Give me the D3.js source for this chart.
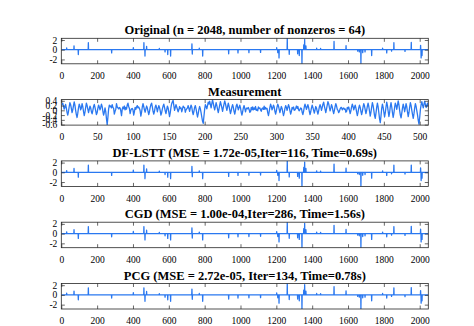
<!DOCTYPE html>
<html><head><meta charset="utf-8">
<script src="https://cdn.jsdelivr.net/npm/d3@7"></script>
<style>
body{margin:0;background:#fff}
svg{display:block}
text{font-family:"Liberation Serif","Times New Roman",serif;fill:#000}
</style>
</head><body>
<svg id="chart" width="474" height="326"></svg>
<script>
// ---------- data ----------
const signalLength = 2048;
const measurementLength = 512;

// positions (1-based sample index) and amplitudes of the visible nonzeros
const nonzeroIndex = [30,71,95,151,281,402,461,467,476,547,579,594,610,729,731,770,789,934,986,1047,1112,1202,1208,1215,1261,1272,1319,1328,1343,1353,1358,1365,1425,1447,1522,1589,1654,1663,1672,1682,1695,1732,1793,1816,1843,1856,1918,1953,2005,2008,2013];
const originalValues = [0.35,0.8,-1.0,1.45,-0.65,0.45,1.45,-1.3,0.7,0.25,-0.45,-1.0,-1.3,1.2,-0.9,0.3,-1.3,-0.85,-0.65,-0.6,-0.55,0.4,-0.6,-1.7,2.35,-0.95,-0.85,-1.2,-2.9,1.0,2.1,0.8,0.3,0.25,1.7,0.85,-0.3,-0.45,-2.85,-0.6,-0.45,-1.2,0.3,-0.65,-0.3,1.45,-0.35,1.5,0.9,-1.7,-1.2];
// reconstructions look identical to the original at this scale
const dflsttValues = originalValues;
const cgdValues = originalValues;
const pcgValues = originalValues;

const measurementValues = [
0.22,0.30,0.18,0.05,0.12,0.25,0.10,-0.08,-0.20,-0.05,0.15,0.32,0.24,0.08,-0.10,0.02,
0.20,0.35,0.22,0.00,-0.18,-0.30,-0.12,0.10,0.26,0.18,0.02,0.10,0.28,0.15,-0.05,-0.22,
-0.08,0.12,0.30,0.20,0.05,-0.10,0.04,0.18,0.10,-0.06,-0.15,0.00,0.16,0.25,0.12,-0.02,
-0.18,-0.10,0.08,0.22,0.14,0.02,0.12,0.26,0.16,-0.04,-0.20,-0.08,0.10,-0.05,-0.35,-0.60,
-0.30,0.05,0.22,0.15,0.18,0.10,0.24,0.12,0.08,-0.16,-0.04,0.04,0.28,0.14,0.10,0.06,
0.12,0.10,-0.02,-0.22,0.05,0.14,0.06,0.18,0.02,0.12,0.05,0.22,0.30,0.16,0.08,-0.14,
0.00,0.06,0.08,0.02,-0.20,-0.06,0.12,0.04,0.14,0.20,0.10,0.14,0.08,-0.02,-0.24,-0.08,
0.14,0.28,0.16,0.02,-0.08,0.06,0.18,0.10,-0.04,-0.18,-0.06,0.12,0.24,0.30,0.14,-0.04,
-0.16,-0.04,0.14,0.22,0.10,-0.06,0.08,0.20,0.12,-0.02,-0.20,-0.10,0.06,0.18,0.26,0.12,
-0.02,-0.14,0.02,0.18,0.10,-0.08,-0.26,-0.10,0.12,0.28,0.36,0.42,0.20,0.00,0.12,0.24,
0.14,0.04,-0.06,0.02,0.16,0.08,0.10,-0.06,0.04,0.18,0.12,0.12,-0.08,0.02,0.06,0.10,
0.20,0.08,-0.04,0.10,0.22,0.14,-0.06,-0.18,-0.04,0.12,0.20,0.06,-0.12,-0.28,-0.14,0.04,
0.16,0.06,-0.10,-0.28,-0.45,-0.55,-0.25,0.05,0.24,0.16,0.06,0.20,0.34,0.26,0.38,0.24,
0.10,0.28,0.44,0.30,0.14,0.02,0.18,0.32,0.20,0.04,-0.10,0.06,0.22,0.36,0.24,0.10,
-0.04,0.12,0.26,0.40,0.28,0.12,0.00,0.16,0.30,0.18,0.02,-0.14,-0.02,0.14,0.24,0.12,
-0.04,-0.16,0.00,0.18,0.26,0.14,0.02,0.12,0.22,0.10,-0.08,-0.20,-0.06,0.10,0.20,0.08,
-0.06,0.06,0.10,0.06,0.12,0.04,-0.08,-0.06,0.12,0.02,0.14,0.02,0.10,0.04,0.16,0.00,
0.04,-0.02,0.14,0.08,0.10,0.02,-0.04,0.08,0.10,0.04,0.18,0.04,0.12,0.06,0.08,-0.10,
-0.22,-0.06,0.12,0.26,0.16,0.02,0.10,0.22,0.14,-0.04,-0.16,-0.02,0.14,0.26,0.18,0.04,
-0.10,0.04,0.16,0.08,-0.08,-0.22,-0.10,0.08,0.20,0.12,0.00,0.12,0.24,0.14,-0.02,-0.16,
-0.04,0.12,0.06,0.14,0.00,0.02,0.08,0.18,0.08,0.16,0.02,-0.02,0.04,0.10,0.08,-0.08,
-0.18,-0.04,0.14,0.26,0.16,0.04,0.14,0.24,0.12,-0.04,-0.18,-0.06,0.10,0.22,0.12,0.00,
-0.12,0.02,0.16,0.10,-0.04,-0.16,-0.02,0.14,0.24,0.14,0.00,0.12,0.26,0.34,0.18,0.04,
-0.10,0.06,0.22,0.36,0.28,0.12,-0.02,0.10,0.24,0.14,-0.02,-0.14,0.00,0.16,0.28,0.18,
0.04,0.00,-0.10,-0.04,0.06,0.12,0.12,0.02,0.08,0.10,0.04,0.06,-0.08,-0.04,0.12,0.06,
0.14,0.00,-0.14,-0.02,0.14,0.26,0.16,0.02,0.12,0.22,0.10,-0.08,-0.22,-0.08,0.10,0.22,
0.12,-0.04,-0.18,-0.04,0.14,0.28,0.18,0.02,-0.14,0.00,0.18,0.30,0.16,-0.04,-0.24,-0.08,
0.14,0.32,0.20,0.00,-0.22,-0.34,-0.12,0.12,0.30,0.14,-0.10,-0.36,-0.52,-0.24,0.08,0.26,
0.12,-0.08,-0.28,-0.10,0.14,0.34,0.20,-0.04,-0.26,-0.10,0.16,0.32,0.14,-0.10,-0.30,-0.12,
0.12,0.30,0.20,0.04,0.22,0.40,0.24,0.00,-0.20,-0.32,-0.12,0.10,0.26,0.12,-0.06,0.10,
0.28,0.14,-0.08,-0.26,-0.10,0.14,0.32,0.20,0.00,-0.18,-0.34,-0.14,0.10,0.28,0.16,-0.02,
-0.20,-0.42,-0.58,-0.30,0.04,0.24,0.36,0.22,0.10,0.26,0.38,0.24,0.12,0.22,0.30,0.16
];

const panelTitles = [
  "Original (n = 2048, number of nonzeros = 64)",
  "Measurement",
  "DF-LSTT (MSE = 1.72e-05,Iter=116, Time=0.69s)",
  "CGD (MSE = 1.00e-04,Iter=286, Time=1.56s)",
  "PCG (MSE = 2.72e-05, Iter=134, Time=0.78s)"
];
const sparseXTicks = [0,200,400,600,800,1000,1200,1400,1600,1800,2000];
const measXTicks = [0,50,100,150,200,250,300,350,400,450,500];
const sparseYTicks = [-2,0,2];
const measYTicks = [-0.6,-0.4,-0.2,0,0.2,0.4];

// ---------- build series ----------
function sparseSeries(values){
  const s = new Array(signalLength).fill(0);
  nonzeroIndex.forEach((k,i)=>{ s[k-1] = values[i]; });
  return s.map((v,i)=>[i+1,v]);
}
const panels = [
  {title:panelTitles[0], data:sparseSeries(originalValues), xMax:signalLength, yDom:[-2.9,2.35], xt:sparseXTicks, yt:sparseYTicks},
  {title:panelTitles[1], data:measurementValues.map((v,i)=>[i+1,v]), xMax:measurementLength, yDom:[-0.62,0.45], xt:measXTicks, yt:measYTicks},
  {title:panelTitles[2], data:sparseSeries(dflsttValues), xMax:signalLength, yDom:[-2.9,2.35], xt:sparseXTicks, yt:sparseYTicks},
  {title:panelTitles[3], data:sparseSeries(cgdValues), xMax:signalLength, yDom:[-2.9,2.35], xt:sparseXTicks, yt:sparseYTicks},
  {title:panelTitles[4], data:sparseSeries(pcgValues), xMax:signalLength, yDom:[-2.9,2.35], xt:sparseXTicks, yt:sparseYTicks}
];

// ---------- layout ----------
const svg = d3.select("#chart");
const left = 61.3, width = 367, firstTop = 38.3, pitch = 61.3, boxH = 25.5;
const lineColor = "#2a78f0", axisColor = "#262626", tickLen = 3.5;

panels.forEach((p, k) => {
  const top = firstTop + k*pitch;
  const g = svg.append("g").attr("transform", `translate(${left},${top})`);
  const x = d3.scaleLinear().domain([0, p.xMax]).range([0, width]);
  const y = d3.scaleLinear().domain(p.yDom).range([boxH, 0]);

  g.append("clipPath").attr("id","clip"+k).append("rect")
    .attr("width", width).attr("height", boxH);

  g.append("path").datum(p.data)
    .attr("clip-path", `url(#clip${k})`)
    .attr("fill","none").attr("stroke", lineColor).attr("stroke-width", 1.3)
    .attr("stroke-linejoin","round")
    .attr("d", d3.line().x(d=>x(d[0])).y(d=>y(d[1])));

  const styleAxis = sel => {
    sel.select(".domain").remove();
    sel.selectAll(".tick line").attr("stroke", axisColor).attr("stroke-width", 0.7);
    sel.selectAll("text").attr("font-family", '"Liberation Serif","Times New Roman",serif')
      .attr("font-size", 9.5).attr("fill", "#000");
  };

  g.append("g").attr("transform", `translate(0,${boxH})`)
    .call(d3.axisBottom(x).tickValues(p.xt).tickSizeInner(-tickLen).tickSizeOuter(0).tickPadding(8.5).tickFormat(d3.format("d")))
    .call(styleAxis);
  g.append("g")
    .call(d3.axisTop(x).tickValues(p.xt).tickSizeInner(-tickLen).tickSizeOuter(0).tickFormat(""))
    .call(styleAxis);
  g.append("g")
    .call(d3.axisLeft(y).tickValues(p.yt).tickSizeInner(-tickLen).tickSizeOuter(0).tickPadding(4)
      .tickFormat(d => (d < 0 ? "-" : "") + d3.format("")(Math.abs(d))))
    .call(styleAxis);
  g.append("g").attr("transform", `translate(${width},0)`)
    .call(d3.axisRight(y).tickValues(p.yt).tickSizeInner(-tickLen).tickSizeOuter(0).tickFormat(""))
    .call(styleAxis);

  g.append("rect").attr("width", width).attr("height", boxH)
    .attr("fill","none").attr("stroke", axisColor).attr("stroke-width", 0.8);

  g.append("text").attr("x", width/2).attr("y", -4)
    .attr("text-anchor","middle").attr("font-weight","bold").attr("font-size", 12.5)
    .text(p.title);
});
</script>
</body></html>
